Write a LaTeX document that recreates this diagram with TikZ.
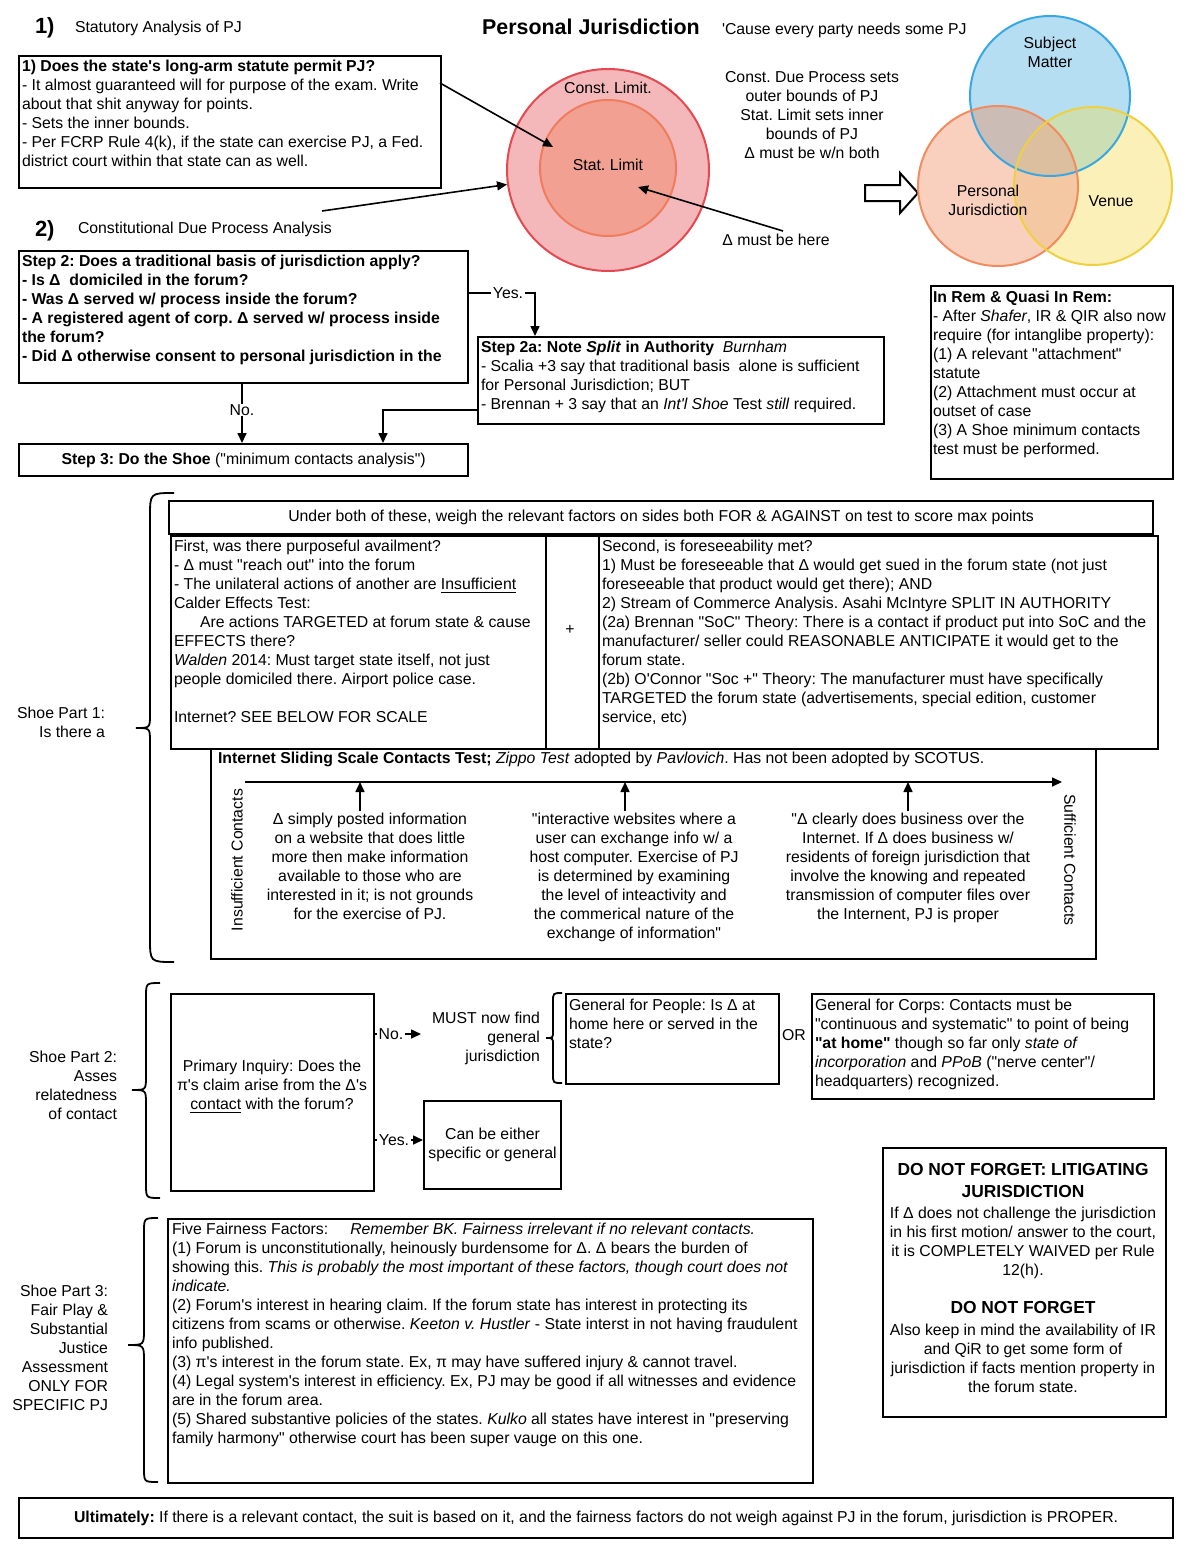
\documentclass[tikz,border=0pt]{standalone}
\usepackage{fontspec}
\setmainfont{Liberation Sans}[Ligatures=TeXOff]
\usetikzlibrary{arrows.meta}
\frenchspacing
\newcommand\fs{\fontsize{7.9}{9.5}\selectfont\frenchspacing}
\definecolor{outerfill}{HTML}{F4B8BA}
\definecolor{outerline}{HTML}{E5484E}
\definecolor{innerfill}{HTML}{F1A092}
\definecolor{innerline}{HTML}{EF7C5C}
\definecolor{smfill}{HTML}{B5DEF3}
\definecolor{smline}{HTML}{3AA8E0}
\definecolor{pjfill}{HTML}{F9D0BE}
\definecolor{pjline}{HTML}{F08C60}
\definecolor{vfill}{HTML}{FAF0B8}
\definecolor{vline}{HTML}{EFD040}
\definecolor{smpj}{HTML}{CBBDB6}
\definecolor{smv}{HTML}{CCDEB3}
\definecolor{pjv}{HTML}{F4C8A2}
\definecolor{smpjv}{HTML}{DCBF9E}
\newcommand\mybrace[6]{%
 \draw[bracel] ({#1+#5},#2) .. controls (#1,#2) .. (#1,{#2+#5}) -- (#1,{#4-#6}) .. controls (#1,#4) .. ({#1-#6},#4) .. controls (#1,#4) .. (#1,{#4+#6}) -- (#1,{#3-#5}) .. controls (#1,#3) .. ({#1+#5},#3);}
\begin{document}
\begin{tikzpicture}[x=0.5pt,y=-0.5pt,
 base/.style={font=\fs, inner sep=0pt, outer sep=0pt},
 txt/.style={base, anchor=north west, align=left},
 ctxt/.style={base, anchor=north, align=center},
 rtxt/.style={base, anchor=north east, align=right},
 box/.style={draw, line width=1.1pt, anchor=north west, inner sep=0pt, font=\fs, align=center},
 conn/.style={line width=0.8pt},
 arr/.style={conn, -{Triangle[length=5pt,width=4.5pt]}},
 lbl/.style={base, fill=white, inner xsep=1pt},
 bracel/.style={line width=0.9pt},
 hnum/.style={base, anchor=west, font=\fontsize{11}{13}\selectfont\bfseries},
 dnf/.style={ctxt, font=\fontsize{8.7}{11}\selectfont\bfseries},
]
\useasboundingbox (0,0) rectangle (1200,1553);

% ---------- header ----------
\node[hnum] (n1) at (35,28) {1)};
\node[base, anchor=west] (h1) at (75,28) {Statutory Analysis of PJ};
\node[base, font=\fontsize{10.7}{13}\selectfont\bfseries] (title) at (591,27) {Personal Jurisdiction};
\node[base, anchor=west] (cause) at (722,30) {'Cause every party needs some PJ};

% ---------- box 1 ----------
\node[box, minimum width=211pt, minimum height=66pt] (b1) at (18,55) {};
\node[txt] (b1t) at (22,60) {\textbf{1) Does the state's long-arm statute permit PJ?}\\
- It almost guaranteed will for purpose of the exam. Write\\
about that shit anyway for points.\\
- Sets the inner bounds.\\
- Per FCRP Rule 4(k), if the state can exercise PJ, a Fed.\\
district court within that state can as well.};

% ---------- limits circles ----------
\node[circle, draw=outerline, fill=outerfill, line width=1pt, minimum size=101pt, inner sep=0pt] (outer) at (608,170) {};
\node[circle, draw=innerline, fill=innerfill, line width=1pt, minimum size=68pt, inner sep=0pt] (inner) at (608,168) {};
\node[base] (constl) at (608,88) {Const. Limit.};
\node[base] (statl) at (608,165) {Stat. Limit};

\coordinate (a1s) at (440,83);
\coordinate (a1e) at (553,147);
\draw[arr] (a1s) -- (a1e);
\coordinate (a2s) at (322,211);
\draw[arr] (a2s) -- (outer);
\coordinate (a3s) at (783,231);
\coordinate (a3e) at (638,187);
\draw[arr] (a3s) -- (a3e);
\node[base] (here) at (776,240) {Δ must be here};

\node[ctxt] (bounds) at (812,71) {Const. Due Process sets\\outer bounds of PJ\\Stat. Limit sets inner\\bounds of PJ\\Δ must be w/n both};

% block arrow
\draw[line width=1pt] (865,185) -- (900,185) -- (900,173) -- (918,193) -- (900,213) -- (900,201) -- (865,201) -- cycle;

% ---------- Venn ----------
\fill[smfill] (1050,96) circle (40pt);
\fill[pjfill] (998,186) circle (40pt);
\fill[vfill] (1093,186) circle (39.5pt);
\begin{scope}
 \clip (998,186) circle (40pt);
 \fill[pjv] (1093,186) circle (39.5pt);
\end{scope}
\begin{scope}
 \clip (1050,96) circle (40pt);
 \fill[smpj] (998,186) circle (40pt);
 \fill[smv] (1093,186) circle (39.5pt);
 \clip (998,186) circle (40pt);
 \fill[smpjv] (1093,186) circle (39.5pt);
\end{scope}
\draw[smline, line width=1pt] (1050,96) circle (40pt);
\draw[pjline, line width=1pt] (998,186) circle (40pt);
\draw[vline, line width=1pt] (1093,186) circle (39.5pt);
\node[base, align=center] (sm) at (1050,52) {Subject\\Matter};
\node[base, align=center] (pj) at (988,200) {Personal\\Jurisdiction};
\node[base] (venue) at (1111,201) {Venue};

% ---------- section 2 ----------
\node[hnum] (n2) at (35,231) {2)};
\node[base, anchor=west] (h2) at (78,229) {Constitutional Due Process Analysis};

\node[box, minimum width=224.5pt, minimum height=66pt] (s2) at (18,250) {};
\node[txt, font=\fs\bfseries] (s2t) at (22,255) {Step 2: Does a traditional basis of jurisdiction apply?\\
- Is Δ\ \ domiciled in the forum?\\
- Was Δ served w/ process inside the forum?\\
- A registered agent of corp. Δ served w/ process inside\\
the forum?\\
- Did Δ otherwise consent to personal jurisdiction in the};

\node[box, minimum width=203pt, minimum height=43.5pt] (s2a) at (477,336) {};
\node[txt] (s2at) at (481,341) {\textbf{Step 2a: Note \textit{Split} in Authority}\ \ \textit{Burnham}\\
- Scalia +3 say that traditional basis\ \ alone is sufficient\\
for Personal Jurisdiction; BUT\\
- Brennan + 3 say that an \textit{Int'l Shoe} Test \textit{still} required.};

\node[lbl] (yes) at (508,293) {Yes.};
\coordinate (yc) at (535,293);
\draw[conn] (s2.east |- yes) -- (yes.west);
\draw[arr] (yes.east) -| (s2a.north -| yc);

\node[box, minimum width=224.5pt, minimum height=16pt] (s3) at (18,443) {\textbf{Step 3: Do the Shoe} ("minimum contacts analysis")};
\node[lbl] (no) at (242,410) {No.};
\draw[conn] (s2.south -| no) -- (no.north);
\draw[arr] (no.south) -- (s3.north -| no);
\coordinate (c2a) at (383,410);
\draw[arr] (s2a.west |- c2a) -| (s3.north -| c2a);

\node[box, minimum width=121pt, minimum height=96.5pt] (rem) at (930,285) {};
\node[txt] (remt) at (933,291) {\textbf{In Rem \& Quasi In Rem:}\\
- After \textit{Shafer}, IR \& QIR also now\\
require (for intanglibe property):\\
(1) A relevant "attachment"\\
statute\\
(2) Attachment must occur at\\
outset of case\\
(3) A Shoe minimum contacts\\
test must be performed.};

% ---------- Shoe part 1 ----------
\mybrace{150}{493}{962}{728}{24}{14}
\node[rtxt] (sp1) at (105,707) {Shoe Part 1:\\Is there a};

\node[box, minimum width=492pt, minimum height=16.5pt] (hdr) at (168,500) {Under both of these, weigh the relevant factors on sides both FOR \& AGAINST on test to score max points};

\node[box, minimum width=187.5pt, minimum height=106.5pt] (lb) at (170,535) {};
\node[txt] (lbt) at (174,540) {First, was there purposeful availment?\\
- Δ must "reach out" into the forum\\
- The unilateral actions of another are \underline{Insufficient}\\
Calder Effects Test:\\
\hspace*{13pt}Are actions TARGETED at forum state \& cause\\
EFFECTS there?\\
\textit{Walden} 2014: Must target state itself, not just\\
people domiciled there. Airport police case.\\[9.5pt]
Internet? SEE BELOW FOR SCALE};

\node[box, minimum width=26.5pt, minimum height=106.5pt] (mb) at (545,535) {};
\node[base] (plus) at (570,630) {+};

\node[box, minimum width=279.5pt, minimum height=106.5pt] (rb) at (598,535) {};
\node[txt] (rbt) at (602,540) {Second, is foreseeability met?\\
1) Must be foreseeable that Δ would get sued in the forum state (not just\\
foreseeable that product would get there); AND\\
2) Stream of Commerce Analysis. Asahi McIntyre SPLIT IN AUTHORITY\\
(2a) Brennan "SoC" Theory: There is a contact if product put into SoC and the\\
manufacturer/ seller could REASONABLE ANTICIPATE it would get to the\\
forum state.\\
(2b) O'Connor "Soc +" Theory: The manufacturer must have specifically\\
TARGETED the forum state (advertisements, special edition, customer\\
service, etc)};

\node[box, minimum width=442.5pt, minimum height=105pt] (ib) at (210,748) {};
\node[txt] (ibt) at (218,752) {\textbf{Internet Sliding Scale Contacts Test;} \textit{Zippo Test} adopted by \textit{Pavlovich}. Has not been adopted by SCOTUS.};
\coordinate (sl) at (245,782);
\coordinate (sr) at (1062,782);
\draw[arr] (sl) -- (sr);
\node[base, rotate=90] (insuf) at (237,860) {Insufficient Contacts};
\node[base, rotate=-90] (suf) at (1070,860) {Sufficient Contacts};
\node[ctxt] (ta) at (370,813) {Δ simply posted information\\on a website that does little\\more then make information\\available to those who are\\interested in it; is not grounds\\for the exercise of PJ.};
\node[ctxt] (tb) at (634,813) {"interactive websites where a\\user can exchange info w/ a\\host computer. Exercise of PJ\\is determined by examining\\the level of inteactivity and\\the commerical nature of the\\exchange of information"};
\node[ctxt] (tc) at (908,813) {"Δ clearly does business over the\\Internet. If Δ does business w/\\residents of foreign jurisdiction that\\involve the knowing and repeated\\transmission of computer files over\\the Internent, PJ is proper};
\coordinate (u1) at (360,811);
\coordinate (u2) at (625,811);
\coordinate (u3) at (908,811);
\draw[arr] (u1) -- (u1 |- sl);
\draw[arr] (u2) -- (u2 |- sl);
\draw[arr] (u3) -- (u3 |- sl);

% ---------- Shoe part 2 ----------
\mybrace{146}{983}{1198}{1090}{14}{14}
\node[rtxt] (sp2) at (117,1051) {Shoe Part 2:\\Asses\\relatedness\\of contact};
\node[box, minimum width=101.5pt, minimum height=98.5pt] (pi) at (170,993) {};
\node[base, align=center] (pit) at (272,1087) {Primary Inquiry: Does the\\π's claim arise from the Δ's\\\underline{contact} with the forum?};

\node[lbl] (no2) at (391,1034) {No.};
\node[rtxt] (must) at (540,1012) {MUST now find\\general\\jurisdiction};
\coordinate (mustin) at (421,1034);
\draw[conn] (pi.east |- no2) -- (no2.west);
\draw[arr] (no2.east) -- (mustin);
\mybrace{553}{993}{1083}{1038}{9}{7}

\node[box, minimum width=106.5pt, minimum height=45pt] (gp) at (565,993) {};
\node[txt] (gpt) at (569,999) {General for People: Is Δ at\\home here or served in the\\state?};
\node[base] (or) at (794,1035) {OR};
\node[box, minimum width=171pt, minimum height=52.5pt] (gc) at (811,993) {};
\node[txt] (gct) at (815,999) {General for Corps: Contacts must be\\
"continuous and systematic" to point of being\\
\textbf{"at home"} though so far only \textit{state of}\\
\textit{incorporation} and \textit{PPoB} ("nerve center"/\\
headquarters) recognized.};

\node[lbl] (yes2) at (394,1140) {Yes.};
\node[box, minimum width=68.5pt, minimum height=44pt] (either) at (423,1100) {Can be either\\specific or general};
\draw[conn] (pi.east |- yes2) -- (yes2.west);
\draw[arr] (yes2.east) -- (either.west |- yes2);

% ---------- do not forget ----------
\node[box, minimum width=141.5pt, minimum height=134.5pt] (dnf) at (882,1147) {};
\node[dnf] (dn1) at (1023,1163) {DO NOT FORGET: LITIGATING\\JURISDICTION};
\node[ctxt] (dn2) at (1023,1207) {If Δ does not challenge the jurisdiction\\in his first motion/ answer to the court,\\it is COMPLETELY WAIVED per Rule\\12(h).};
\node[dnf] (dn3) at (1023,1301) {DO NOT FORGET};
\node[ctxt] (dn4) at (1023,1324) {Also keep in mind the availability of IR\\and QiR to get some form of\\jurisdiction if facts mention property in\\the forum state.};

% ---------- Shoe part 3 ----------
\mybrace{144}{1218}{1482}{1345}{14}{16}
\node[rtxt] (sp3) at (108,1285) {Shoe Part 3:\\Fair Play \&\\Substantial\\Justice\\Assessment\\ONLY FOR\\SPECIFIC PJ};
\node[box, minimum width=322.5pt, minimum height=132pt] (ff) at (167,1218) {};
\node[txt] (fft) at (172,1223) {Five Fairness Factors:\hspace{11pt}\textit{Remember BK. Fairness irrelevant if no relevant contacts.}\\
(1) Forum is unconstitutionally, heinously burdensome for Δ. Δ bears the burden of\\
showing this. \textit{This is probably the most important of these factors, though court does not}\\
\textit{indicate.}\\
(2) Forum's interest in hearing claim. If the forum state has interest in protecting its\\
citizens from scams or otherwise. \textit{Keeton v. Hustler} - State interst in not having fraudulent\\
info published.\\
(3) π's interest in the forum state. Ex, π may have suffered injury \& cannot travel.\\
(4) Legal system's interest in efficiency. Ex, PJ may be good if all witnesses and evidence\\
are in the forum area.\\
(5) Shared substantive policies of the states. \textit{Kulko} all states have interest in "preserving\\
family harmony" otherwise court has been super vauge on this one.};

% ---------- bottom ----------
\node[box, minimum width=577pt, minimum height=20pt] (ult) at (18,1497) {\textbf{Ultimately:} If there is a relevant contact, the suit is based on it, and the fairness factors do not weigh against PJ in the forum, jurisdiction is PROPER.};

\end{tikzpicture}
\end{document}
